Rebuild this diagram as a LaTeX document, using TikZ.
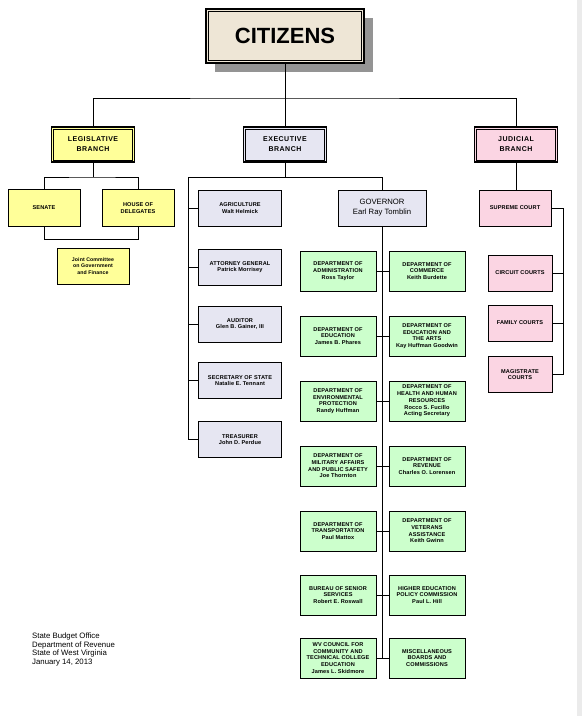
\documentclass[tikz,border=0pt]{standalone}
\usepackage{fontspec}
\setmainfont{Liberation Sans}
\newfontfamily\spacedfont[LetterSpace=7]{Liberation Sans}
\newfontfamily\smallspaced[LetterSpace=2]{Liberation Sans}
\usetikzlibrary{shadows}
\definecolor{citfill}{HTML}{EEE6D6}
\definecolor{legfill}{HTML}{FFFF99}
\definecolor{exefill}{HTML}{E6E6F2}
\definecolor{judfill}{HTML}{FBD5E3}
\definecolor{deptfill}{HTML}{CCFFCC}
\definecolor{stripgray}{HTML}{EBEBEB}
\begin{document}
\begin{tikzpicture}[x=1pt,y=-1pt,
  conn/.style={draw=black, line width=0.8pt},
  box/.style={draw=black, line width=0.8pt, align=center, inner sep=1pt,
    font=\smallspaced\bfseries\fontsize{5.6}{6.7}\selectfont},
  branchbox/.style={draw=black, line width=1.3pt, align=center, inner sep=1pt,
    minimum width=83pt, minimum height=35pt,
    font=\spacedfont\bfseries\fontsize{7}{10}\selectfont},
  legbox/.style={box, fill=legfill, minimum width=72pt, minimum height=37pt},
  exebox/.style={box, fill=exefill, minimum width=83pt, minimum height=36pt},
  deptbox/.style={box, fill=deptfill, minimum width=76pt, minimum height=40pt},
  judbox/.style={box, fill=judfill, minimum width=64pt, minimum height=36pt},
  innerline/.style={draw=black, line width=0.6pt}
]
\useasboundingbox (0,0) rectangle (582,716);
\fill[stripgray] (577,0) rectangle (582,716);

% citizens
\node[draw=black, line width=1.4pt, fill=citfill, minimum width=158pt, minimum height=54pt,
  font=\bfseries\fontsize{22}{24}\selectfont,
  drop shadow={shadow xshift=9pt, shadow yshift=-9pt, fill=black!42, opacity=1}]
  (cit) at (285,36) {CITIZENS};
\draw[innerline] ([xshift=3pt,yshift=-3pt]cit.north west) rectangle ([xshift=-3pt,yshift=3pt]cit.south east);

% branches
\node[branchbox, fill=legfill] (leg) at (93,144.5) {LEGISLATIVE\\BRANCH};
\node[branchbox, fill=exefill] (exe) at (285,144.5) {EXECUTIVE\\BRANCH};
\node[branchbox, fill=judfill] (jud) at (516,144.5) {JUDICIAL\\BRANCH};
\foreach \n in {leg,exe,jud}
  \draw[innerline] ([xshift=2.5pt,yshift=-2.5pt]\n.north west) rectangle ([xshift=-2.5pt,yshift=2.5pt]\n.south east);

\coordinate (bus) at (285,98);
\draw[conn] (cit.south) -- (exe.north);
\draw[conn] (leg.north) |- (bus) -| (jud.north);

% legislative
\node[legbox] (sen) at (44,208) {SENATE};
\node[legbox] (hod) at (138,208) {HOUSE OF\\DELEGATES};
\node[legbox, minimum height=36pt, font=\smallspaced\bfseries\fontsize{5.2}{6.5}\selectfont] (joint) at (93,266) {Joint Committee\\on Government\\and Finance};
\coordinate (lb) at (93,177);
\draw[conn] (leg.south) -- (lb);
\draw[conn] (sen.north) |- (lb) -| (hod.north);
\draw[conn] (sen.south) -- ++(0,12) -| (hod.south);

% executive
\node[exebox] (agri) at (240,208) {AGRICULTURE\\Walt Helmick};
\node[exebox] (ag) at (240,267) {ATTORNEY GENERAL\\Patrick Morrisey};
\node[exebox] (aud) at (240,324) {AUDITOR\\Glen B. Gainer, III};
\node[exebox] (sos) at (240,380.5) {SECRETARY OF STATE\\Natalie E. Tennant};
\node[exebox] (treas) at (240,439.5) {TREASURER\\John D. Perdue};
\node[exebox, minimum width=88pt, font=\fontsize{7.7}{10}\selectfont] (gov) at (382,208) {GOVERNOR\\Earl Ray Tomblin};

\coordinate (el) at (188,177);
\draw[conn] (exe.south) -- (exe.south |- el);
\draw[conn] (treas.west) -| (el) -| (gov.north);
\foreach \n in {agri,ag,aud,sos}
  \draw[conn] (\n.west) -- (\n.west -| el);

% departments
\node[deptbox] (d1l) at (338,271) {DEPARTMENT OF\\ADMINISTRATION\\Ross Taylor};
\node[deptbox] (d1r) at (427,271) {DEPARTMENT OF\\COMMERCE\\Keith Burdette};
\node[deptbox] (d2l) at (338,336) {DEPARTMENT OF\\EDUCATION\\James B. Phares};
\node[deptbox] (d2r) at (427,336) {DEPARTMENT OF\\EDUCATION AND\\THE ARTS\\Kay Huffman Goodwin};
\node[deptbox] (d3l) at (338,401) {DEPARTMENT OF\\ENVIRONMENTAL\\PROTECTION\\Randy Huffman};
\node[deptbox] (d3r) at (427,401) {DEPARTMENT OF\\HEALTH AND HUMAN\\RESOURCES\\Rocco S. Fucillo\\Acting Secretary};
\node[deptbox] (d4l) at (338,466) {DEPARTMENT OF\\MILITARY AFFAIRS\\AND PUBLIC SAFETY\\Joe Thornton};
\node[deptbox] (d4r) at (427,466) {DEPARTMENT OF\\REVENUE\\Charles O. Lorensen};
\node[deptbox] (d5l) at (338,531) {DEPARTMENT OF\\TRANSPORTATION\\Paul Mattox};
\node[deptbox] (d5r) at (427,531) {DEPARTMENT OF\\VETERANS\\ASSISTANCE\\Keith Gwinn};
\node[deptbox] (d6l) at (338,595) {BUREAU OF SENIOR\\SERVICES\\Robert E. Roswall};
\node[deptbox] (d6r) at (427,595) {HIGHER EDUCATION\\POLICY COMMISSION\\Paul L. Hill};
\node[deptbox] (d7l) at (338,658) {WV COUNCIL FOR\\COMMUNITY AND\\TECHNICAL COLLEGE\\EDUCATION\\James L. Skidmore};
\node[deptbox] (d7r) at (427,658) {MISCELLANEOUS\\BOARDS AND\\COMMISSIONS};

\draw[conn] (gov.south) -- (gov.south |- d7l.east);
\foreach \i in {1,...,7}
  \draw[conn] (d\i l.east) -- (d\i r.west);

% judicial
\node[judbox, minimum width=72pt] (sup) at (515,208) {SUPREME COURT};
\node[judbox] (cir) at (520,273) {CIRCUIT COURTS};
\node[judbox] (fam) at (520,323) {FAMILY COURTS};
\node[judbox] (mag) at (520,374.5) {MAGISTRATE\\COURTS};
\coordinate (jr) at (563,208);
\draw[conn] (jud.south) -- (jud.south |- sup.north);
\draw[conn] (sup.east) -- (jr) |- (mag.east);
\foreach \n in {cir,fam}
  \draw[conn] (\n.east) -- (\n.east -| jr);

% note
\node[anchor=north west, align=left, inner sep=0pt, font=\fontsize{7.8}{8.4}\selectfont] (note) at (32,633)
  {State Budget Office\\Department of Revenue\\State of West Virginia\\January 14, 2013};
\end{tikzpicture}
\end{document}
